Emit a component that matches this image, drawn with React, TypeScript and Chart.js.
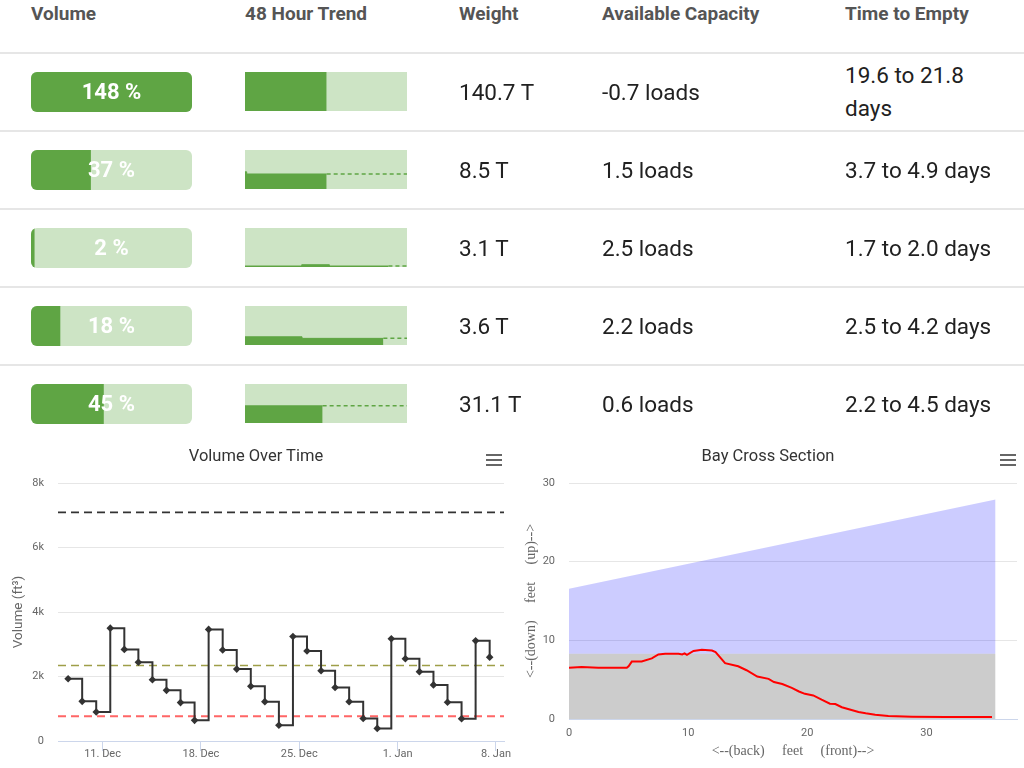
import React, { useEffect, useRef } from "react";
import { Chart, registerables } from "chart.js";

Chart.register(...registerables);
Chart.defaults.font.family = "Roboto, 'Noto Sans', sans-serif";

const DARK = "#5fa544";
const LIGHT = "#cde4c5";

// ---------- table data ----------
const headers = ["Volume", "48 Hour Trend", "Weight", "Available Capacity", "Time to Empty"];
const volumePercent = [148, 37, 2, 18, 45];
const weightText = ["140.7 T", "8.5 T", "3.1 T", "3.6 T", "31.1 T"];
const capacityText = ["-0.7 loads", "1.5 loads", "2.5 loads", "2.2 loads", "0.6 loads"];
const timeToEmptyText = ["19.6 to 21.8 days", "3.7 to 4.9 days", "1.7 to 2.0 days", "2.5 to 4.2 days", "2.2 to 4.5 days"];

// 48 hour trend: [hour, % of capacity]
const trendHistory: number[][][] = [
  [[0, 148], [24.2, 148]],
  [[0, 44], [0.5, 38.5], [24.2, 38.5]],
  [[0, 2.5], [16.8, 5.8], [25, 2.5], [42.5, 2.5]],
  [[0, 21], [16.9, 17], [41, 17]],
  [[0, 44], [23, 44]],
];
const trendProjection: number[][][] = [
  [[24.2, 148], [48, 148]],
  [[24.2, 38.5], [48, 38.5]],
  [[42.5, 2.5], [48, 2.5]],
  [[41, 17], [48, 17]],
  [[23, 44], [48, 44]],
];

// ---------- Volume Over Time ----------
// day numbers counted from 0 Dec
const volumeDays = [8.55, 9.55, 10.55, 11.55, 12.55, 13.55, 14.55, 15.55, 16.55, 17.55, 18.55, 19.55, 20.55, 21.55, 22.55, 23.55, 24.55, 25.55, 26.55, 27.55, 28.55, 29.55, 30.55, 31.55, 32.55, 33.55, 34.55, 35.55, 36.55, 37.55, 38.55];
const volumeValues = [1930, 1230, 900, 3500, 2840, 2440, 1900, 1570, 1190, 640, 3460, 2820, 2230, 1700, 1220, 490, 3240, 2790, 2180, 1660, 1220, 700, 390, 3170, 2550, 2150, 1740, 1200, 690, 3110, 2600];
const volumeTickDays = [11, 18, 25, 32, 39];
const volumeTickLabels = ["11. Dec", "18. Dec", "25. Dec", "1. Jan", "8. Jan"];
const volumeYTicks = [0, 2000, 4000, 6000, 8000];
const volumePlotLines = [7090, 2340, 770];
const volumePlotLineColors = ["#333333", "#9e9e48", "#ff6666"];
const volumeXRange = [7.83, 39.57];

// ---------- Bay Cross Section ----------
const bayEdgeX = [0, 35.8];
const bayTopY = [16.55, 27.9];
const bayLevelY = [8.3, 8.3];
const bayProfileX = [0, 1.06, 2.46, 3.6, 4.85, 5.0, 5.27, 6.1, 6.95, 7.5, 8.07, 9.2, 9.5, 9.7, 9.9, 10.45, 11.15, 12.0, 12.3, 13.1, 14.2, 14.9, 15.8, 16.75, 17.2, 17.9, 18.7, 19.3, 19.8, 20.5, 21.2, 21.9, 22.35, 22.9, 24.3, 24.9, 25.7, 26.8, 28.8, 31.6, 35.5];
const bayProfileY = [6.5, 6.6, 6.5, 6.5, 6.5, 6.7, 7.3, 7.3, 7.7, 8.2, 8.3, 8.3, 8.2, 8.35, 8.15, 8.65, 8.8, 8.7, 8.5, 7.1, 6.7, 6.2, 5.4, 5.1, 4.7, 4.45, 3.95, 3.5, 3.2, 3.0, 2.45, 1.95, 1.9, 1.5, 0.9, 0.72, 0.55, 0.38, 0.3, 0.26, 0.26];
const bayXTicks = [0, 10, 20, 30];
const bayYTicks = [0, 10, 20, 30];
const bayXRange = [0, 37.6];

function hasFont(name: string) {
  const c = document.createElement("canvas").getContext("2d");
  if (!c) return false;
  c.font = "20px monospace";
  const a = c.measureText("Available Capacity").width;
  c.font = `20px "${name}", monospace`;
  return Math.abs(c.measureText("Available Capacity").width - a) > 0.5;
}

function useChart(makeConfig: () => any) {
  const ref = useRef<HTMLCanvasElement>(null);
  useEffect(() => {
    if (!ref.current) return;
    const chart = new Chart(ref.current, makeConfig());
    return () => chart.destroy();
  }, []);
  return ref;
}

const noPlugins = { legend: { display: false }, tooltip: { enabled: false }, title: { display: false } };

function VolumeBar({ pct }: { pct: number }) {
  const ref = useChart(() => ({
    type: "bar",
    data: {
      labels: [""],
      datasets: [{ data: [Math.min(pct, 100)], backgroundColor: DARK, borderWidth: 0, barPercentage: 1, categoryPercentage: 1 }],
    },
    options: {
      animation: false,
      responsive: false,
      indexAxis: "y",
      layout: { padding: 0 },
      plugins: noPlugins,
      scales: { x: { display: false, min: 0, max: 100 }, y: { display: false } },
    },
  }));
  return (
    <div style={{ position: "absolute", left: 0, top: 0, width: 161, height: 40, borderRadius: 6, overflow: "hidden", background: LIGHT }}>
      <canvas ref={ref} width={161} height={40} style={{ display: "block" }} />
      <div style={{ position: "absolute", left: 0, top: 0, width: 161, height: 40, lineHeight: "40px", textAlign: "center", color: "#fff", fontWeight: 700, fontSize: 22, fontFamily: "Roboto" }}>
        {pct} %
      </div>
    </div>
  );
}

function TrendChart({ idx }: { idx: number }) {
  const ref = useChart(() => ({
    type: "line",
    data: {
      datasets: [
        {
          data: trendHistory[idx].map(([x, y]) => ({ x, y })),
          stepped: "before",
          fill: "origin",
          backgroundColor: DARK,
          borderColor: DARK,
          borderWidth: 1,
          pointRadius: 0,
        },
        {
          data: trendProjection[idx].map(([x, y]) => ({ x, y })),
          fill: false,
          borderColor: DARK,
          borderWidth: 1.5,
          borderDash: [4, 3],
          pointRadius: 0,
        },
      ],
    },
    options: {
      animation: false,
      responsive: false,
      layout: { padding: 0 },
      plugins: noPlugins,
      scales: {
        x: { type: "linear", display: false, min: 0, max: 48 },
        y: { display: false, min: 0, max: 100 },
      },
    },
  }));
  return (
    <div style={{ position: "absolute", left: 0, top: 0, width: 162, height: 39, background: LIGHT }}>
      <canvas ref={ref} width={162} height={39} style={{ display: "block" }} />
    </div>
  );
}

function Hamburger({ left, top }: { left: number; top: number }) {
  return (
    <div style={{ position: "absolute", left, top, width: 16, height: 12 }}>
      {[0, 5, 10].map((t) => (
        <div key={t} style={{ position: "absolute", left: 0, top: t, width: 16, height: 2, background: "#666" }} />
      ))}
    </div>
  );
}

function VolumeChart() {
  const ref = useChart(() => ({
    type: "line",
    data: {
      datasets: [
        {
          data: volumeDays.map((x, i) => ({ x, y: volumeValues[i] })),
          stepped: "before",
          borderColor: "#333",
          borderWidth: 2,
          pointStyle: "rectRot",
          pointRadius: 3.8,
          pointBackgroundColor: "#333",
          pointBorderColor: "#333",
          pointBorderWidth: 0,
          fill: false,
        },
        ...volumePlotLines.map((v, i) => ({
          data: [{ x: volumeXRange[0], y: v }, { x: volumeXRange[1], y: v }],
          borderColor: volumePlotLineColors[i],
          borderWidth: i === 2 ? 2 : 1.6,
          borderDash: [8, 5],
          pointRadius: 0,
          fill: false,
        })),
      ],
    },
    options: {
      animation: false,
      responsive: false,
      layout: { padding: { top: 43, right: 8, left: 0, bottom: 0 } },
      plugins: noPlugins,
      scales: {
        x: {
          type: "linear",
          min: volumeXRange[0],
          max: volumeXRange[1],
          afterBuildTicks: (s: any) => { s.ticks = volumeTickDays.map((value) => ({ value })); },
          afterFit: (s: any) => { s.height = 27; s.paddingLeft = 0; s.paddingRight = 0; },
          grid: { drawOnChartArea: false, drawTicks: true, tickLength: 10, color: "#ccd6eb" },
          border: { color: "#ccd6eb", width: 1 },
          ticks: {
            padding: -3,
            color: "#666",
            font: { size: 11 },
            maxRotation: 0,
            autoSkip: false,
            callback: (_v: any, i: number) => volumeTickLabels[i],
          },
        },
        y: {
          min: 0,
          max: 8000,
          afterBuildTicks: (s: any) => { s.ticks = volumeYTicks.map((value) => ({ value })); },
          afterFit: (s: any) => { s.width = 58; s.paddingTop = 0; s.paddingBottom = 0; },
          grid: { color: "#e6e6e6", drawTicks: false },
          border: { display: false },
          ticks: {
            padding: 14,
            color: "#666",
            font: { size: 11 },
            callback: (v: any) => (v === 0 ? "0" : v / 1000 + "k"),
          },
          title: { display: true, text: "Volume (ft³)", color: "#666", font: { size: 13.5 }, padding: { top: 11, bottom: 0 } },
        },
      },
    },
  }));
  return <canvas ref={ref} width={512} height={328} style={{ display: "block" }} />;
}

function BayChart() {
  const serif = "'Liberation Serif', 'DejaVu Serif', serif";
  const ref = useChart(() => ({
    type: "line",
    data: {
      datasets: [
        {
          data: bayProfileX.map((x, i) => ({ x, y: bayProfileY[i] })),
          borderColor: "#ff0000",
          borderWidth: 2,
          pointRadius: 0,
          fill: false,
          tension: 0,
        },
        {
          data: bayEdgeX.map((x, i) => ({ x, y: bayLevelY[i] })),
          borderWidth: 0,
          borderColor: "rgba(0,0,0,0)",
          backgroundColor: "rgba(0,0,0,0.2)",
          pointRadius: 0,
          fill: "origin",
        },
        {
          data: bayEdgeX.map((x, i) => ({ x, y: bayTopY[i] })),
          borderWidth: 0,
          borderColor: "rgba(0,0,0,0)",
          backgroundColor: "rgba(0,0,255,0.2)",
          pointRadius: 0,
          fill: 1,
        },
      ],
    },
    options: {
      animation: false,
      responsive: false,
      layout: { padding: { top: 43, right: 7, left: 0, bottom: 0 } },
      plugins: noPlugins,
      scales: {
        x: {
          type: "linear",
          min: bayXRange[0],
          max: bayXRange[1],
          afterBuildTicks: (s: any) => { s.ticks = bayXTicks.map((value) => ({ value })); },
          afterFit: (s: any) => { s.height = 49; s.paddingLeft = 0; s.paddingRight = 0; },
          grid: { drawOnChartArea: false, drawTicks: false },
          border: { color: "#ccd6eb", width: 1 },
          ticks: { padding: 8, color: "#666", font: { size: 11 }, maxRotation: 0, autoSkip: false },
          title: {
            display: true,
            text: "<--(back)     feet     (front)-->",
            color: "#666",
            font: { size: 14, family: serif },
            padding: { top: 0, bottom: 8 },
          },
        },
        y: {
          min: 0,
          max: 30,
          afterBuildTicks: (s: any) => { s.ticks = bayYTicks.map((value) => ({ value })); },
          afterFit: (s: any) => { s.width = 57; s.paddingTop = 0; s.paddingBottom = 0; },
          grid: { color: "#e6e6e6", drawTicks: false },
          border: { display: false },
          ticks: { padding: 14, color: "#666", font: { size: 11 } },
          title: {
            display: true,
            text: "<--(down)     feet     (up)-->",
            color: "#666",
            font: { size: 14, family: serif },
            padding: { top: 10.6, bottom: 0 },
          },
        },
      },
    },
  }));
  return <canvas ref={ref} width={512} height={328} style={{ display: "block" }} />;
}

const colLeft = [31, 245, 459, 602, 845];

export default function App() {
  const narrow = hasFont("Liberation Sans Narrow");
  const headerFont = narrow
    ? { fontFamily: "'Liberation Sans Narrow'", fontSize: 21 }
    : { fontFamily: "Roboto", fontSize: 19 };
  const rowCenters = [92, 170, 248, 326, 404];
  const textStyle: React.CSSProperties = {
    position: "absolute",
    fontFamily: "Roboto",
    fontSize: 22.5,
    lineHeight: "33px",
    color: "#212121",
  };
  return (
    <div style={{ position: "absolute", left: 0, top: 0, width: 1024, height: 768, background: "#fff", overflow: "hidden", fontFamily: "Roboto" }}>
      {headers.map((h, i) => (
        <div key={h} style={{ position: "absolute", left: colLeft[i], top: 2, lineHeight: "24px", fontWeight: 700, color: "#555", whiteSpace: "nowrap", ...headerFont }}>
          {h}
        </div>
      ))}
      {[52, 130, 208, 286, 364].map((y) => (
        <div key={y} style={{ position: "absolute", left: 0, top: y, width: 1024, height: 2, background: "#e6e6e6" }} />
      ))}
      {rowCenters.map((c, i) => (
        <React.Fragment key={i}>
          <div style={{ position: "absolute", left: colLeft[0], top: c - 20, width: 161, height: 40 }}>
            <VolumeBar pct={volumePercent[i]} />
          </div>
          <div style={{ position: "absolute", left: colLeft[1], top: c - 20, width: 162, height: 39 }}>
            <TrendChart idx={i} />
          </div>
          <div style={{ ...textStyle, left: colLeft[2], top: c - 16.5, whiteSpace: "nowrap" }}>{weightText[i]}</div>
          <div style={{ ...textStyle, left: colLeft[3], top: c - 16.5, whiteSpace: "nowrap" }}>{capacityText[i]}</div>
          <div
            style={{
              ...textStyle,
              left: colLeft[4],
              width: 160,
              top: timeToEmptyText[i].length > 16 ? c - 33 : c - 16.5,
            }}
          >
            {timeToEmptyText[i]}
          </div>
        </React.Fragment>
      ))}
      <div style={{ position: "absolute", left: 0, top: 440, width: 512, height: 328, background: "#fff" }}>
        <VolumeChart />
        <div style={{ position: "absolute", left: 0, top: 5, width: 512, textAlign: "center", fontSize: 16.5, lineHeight: "22px", color: "#333" }}>
          Volume Over Time
        </div>
        <Hamburger left={486} top={14} />
      </div>
      <div style={{ position: "absolute", left: 512, top: 440, width: 512, height: 328, background: "#fff" }}>
        <BayChart />
        <div style={{ position: "absolute", left: 0, top: 5, width: 512, textAlign: "center", fontSize: 16.5, lineHeight: "22px", color: "#333" }}>
          Bay Cross Section
        </div>
        <Hamburger left={488} top={14} />
      </div>
    </div>
  );
}
